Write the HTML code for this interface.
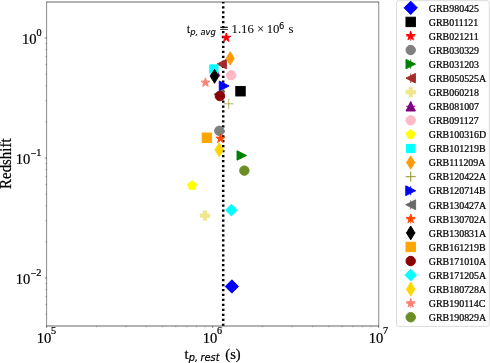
<!DOCTYPE html>
<html lang="en"><head><meta charset="utf-8"><title>GRB redshift vs peak time</title>
<style>html,body{margin:0;padding:0;background:#fff;}body{width:490px;height:363px;overflow:hidden;position:relative;}</style>
</head><body>
<svg width="490" height="363" viewBox="0 0 490 363" style="position:absolute;left:0;top:0;display:block">
<rect width="490" height="363" fill="#fff"/>
<style>text{fill:#000;stroke:#000;stroke-width:0.22px;font-family:"Liberation Serif",serif;}.tk{font-size:14.6px}.sp{font-size:10.2px}.lb{font-size:14.6px}.lg{font-size:9.95px}.an{font-size:12.75px;stroke-width:0.03px}.eq{font-size:12.75px;stroke-width:0.35px}.lbs{font-family:"DejaVu Sans","Liberation Sans",sans-serif;font-style:italic;font-size:9.85px}.ans{font-family:"DejaVu Sans","Liberation Sans",sans-serif;font-style:italic;font-size:8.3px;stroke-width:0.1px}.anp{font-family:"DejaVu Sans","Liberation Sans",sans-serif;font-size:8.3px;stroke-width:0.1px}</style>
<path d="M223.2 325.7V2.0" stroke="#000" stroke-width="2.5" stroke-dasharray="2.25 2.71" stroke-dashoffset="0.18" fill="none"/>
<path d="M231.9 279.79L238.58 286.47L231.9 293.15L225.22 286.47Z" fill="#0000ff" stroke="#0000ff" stroke-width="0.95"/>
<rect x="235.78" y="86.52" width="9.45" height="9.45" fill="#000000" stroke="#000000" stroke-width="0.95"/>
<path d="M226.3 32.96L227.36 36.23L230.79 36.23L228.02 38.25L229.08 41.51L226.3 39.49L223.52 41.51L224.58 38.25L221.81 36.23L225.24 36.23Z" fill="#ff0000" stroke="#ff0000" stroke-width="0.95" stroke-linejoin="bevel"/>
<circle cx="219.3" cy="130.81" r="4.72" fill="#808080" stroke="#808080" stroke-width="0.95"/>
<path d="M246.47 155.46L237.03 150.73L237.03 160.18Z" fill="#008000" stroke="#008000" stroke-width="0.95"/>
<path d="M216.97 64.1L226.42 59.38L226.42 68.83Z" fill="#a52a2a" stroke="#a52a2a" stroke-width="0.95"/>
<path d="M203.33 210.9H206.47V214.05H209.62V217.2H206.47V220.35H203.33V217.2H200.18V214.05H203.33Z" fill="#f0e68c" stroke="#f0e68c" stroke-width="0.95"/>
<path d="M215.1 66.41L219.82 75.86L210.38 75.86Z" fill="#800080" stroke="#800080" stroke-width="0.95"/>
<circle cx="231.2" cy="75.18" r="4.72" fill="#ffb8c5" stroke="#ffb8c5" stroke-width="0.95"/>
<path d="M192.1 180.77L196.59 184.04L194.88 189.32L189.32 189.32L187.61 184.04Z" fill="#ffff00" stroke="#ffff00" stroke-width="0.95"/>
<rect x="209.78" y="64.85" width="8.25" height="8.25" fill="#00ffff" stroke="#00ffff" stroke-width="0.95"/>
<path d="M230.2 51.65L234.21 58.33L230.2 65.01L226.19 58.33Z" fill="#ff9b08" stroke="#ff9b08" stroke-width="0.95"/>
<path d="M223.8 103.79H233.6M228.7 98.89V108.69" stroke="#a0a03c" stroke-width="0.78" fill="none"/>
<path d="M229.12 85.96L219.27 81.04L219.27 90.89Z" fill="#0000ff" stroke="#0000ff" stroke-width="0.95"/>
<path d="M213.97 94.22L223.83 89.3L223.83 99.15Z" fill="#696969" stroke="#696969" stroke-width="0.95"/>
<path d="M220.4 133.91L221.46 137.18L224.89 137.18L222.12 139.19L223.18 142.46L220.4 140.44L217.62 142.46L218.68 139.19L215.91 137.18L219.34 137.18Z" fill="#ff4500" stroke="#ff4500" stroke-width="0.95" stroke-linejoin="bevel"/>
<path d="M214.5 69.38L218.68 76.35L214.5 83.31L210.32 76.35Z" fill="#000000" stroke="#000000" stroke-width="0.95"/>
<rect x="202.18" y="133.02" width="9.45" height="9.45" fill="#ffa500" stroke="#ffa500" stroke-width="0.95"/>
<circle cx="219.85" cy="96.02" r="4.72" fill="#8b0000" stroke="#8b0000" stroke-width="0.95"/>
<path d="M231.4 204.26L237.23 210.1L231.4 215.93L225.57 210.1Z" fill="#00ffff" stroke="#00ffff" stroke-width="0.95"/>
<path d="M219.15 142.85L223.33 149.82L219.15 156.78L214.97 149.82Z" fill="#ffd700" stroke="#ffd700" stroke-width="0.95"/>
<path d="M205.45 77.87L206.51 81.13L209.94 81.13L207.17 83.15L208.23 86.42L205.45 84.4L202.67 86.42L203.73 83.15L200.96 81.13L204.39 81.13Z" fill="#fa8072" stroke="#fa8072" stroke-width="0.95" stroke-linejoin="bevel"/>
<circle cx="244.35" cy="170.62" r="4.72" fill="#6b8e23" stroke="#6b8e23" stroke-width="0.95"/>
<path d="M46.6 2.0V326.0M378.75 2.0V326.0" stroke="#000" stroke-width="0.75" stroke-opacity="0.62" fill="none"/>
<path d="M46.230000000000004 2.0H379.12M46.230000000000004 326.0H379.12" stroke="#000" stroke-width="0.75" stroke-opacity="0.8" fill="none"/>
<path d="M46.6 326.0v1.9M212.65 326.0v1.9M378.7 326.0v1.9M46.6 38h-1.9M46.6 158h-1.9M46.6 278h-1.9" stroke="#000" stroke-width="0.7" stroke-opacity="0.7" fill="none"/>
<path d="M96.59 326.0v1.1M125.83 326.0v1.1M146.57 326.0v1.1M162.66 326.0v1.1M175.81 326.0v1.1M186.93 326.0v1.1M196.56 326.0v1.1M205.05 326.0v1.1M262.64 326.0v1.1M291.88 326.0v1.1M312.62 326.0v1.1M328.71 326.0v1.1M341.86 326.0v1.1M352.98 326.0v1.1M362.61 326.0v1.1M371.1 326.0v1.1M46.6 121.88h-1.1M46.6 100.75h-1.1M46.6 85.75h-1.1M46.6 74.12h-1.1M46.6 64.62h-1.1M46.6 56.59h-1.1M46.6 49.63h-1.1M46.6 43.49h-1.1M46.6 241.88h-1.1M46.6 220.75h-1.1M46.6 205.75h-1.1M46.6 194.12h-1.1M46.6 184.62h-1.1M46.6 176.59h-1.1M46.6 169.63h-1.1M46.6 163.49h-1.1M46.6 314.12h-1.1M46.6 304.62h-1.1M46.6 296.59h-1.1M46.6 289.63h-1.1M46.6 283.49h-1.1" stroke="#000" stroke-width="0.6" stroke-opacity="0.5" fill="none"/>
<text class="tk" transform="translate(36.8 342.6) scale(1 1.05)">10</text><text class="sp" transform="translate(51 333.8) scale(1 1.05)">5</text>
<text class="tk" transform="translate(202.8 342.6) scale(1 1.05)">10</text><text class="sp" transform="translate(217 333.8) scale(1 1.05)">6</text>
<text class="tk" transform="translate(368.8 342.6) scale(1 1.05)">10</text><text class="sp" transform="translate(383 333.8) scale(1 1.05)">7</text>
<text class="tk" transform="translate(22 44.4) scale(1 1.05)">10</text><text class="sp" transform="translate(36.6 35.8) scale(1 1.05)">0</text>
<text class="tk" transform="translate(15.8 164.4) scale(1 1.05)">10</text><text class="sp" transform="translate(30.8 156.6)">−</text><text class="sp" transform="translate(36.15 155.8) scale(1 1.05)">1</text>
<text class="tk" transform="translate(15.8 284.4) scale(1 1.05)">10</text><text class="sp" transform="translate(30.8 276.6)">−</text><text class="sp" transform="translate(36.15 275.8) scale(1 1.05)">2</text>
<text class="lb" transform="translate(184.6 358.5) scale(1 1.05)">t</text>
<text class="lbs" transform="translate(188.7 360.7)">p,</text>
<text class="lbs" transform="translate(200.4 360.7)">rest</text>
<text class="lb" transform="translate(225.3 358.5) scale(1 1.05)">(s)</text>
<text class="lb" transform="translate(11.3 188.9) rotate(-90) scale(1.02 1.08)">Redshift</text>
<text class="an" transform="translate(186.8 33) scale(1 1.05)">t</text>
<text class="ans" transform="translate(190.35 35)">p,</text>
<text class="ans" transform="translate(200.5 35)">avg</text>
<text class="eq" transform="translate(219.7 33) scale(1.2 1)">=</text>
<text class="an" transform="translate(231.52 33) scale(1 1.05)">1.16 ×</text>
<text class="an" transform="translate(266.7 33) scale(1 1.05)">10</text>
<text class="anp" transform="translate(278.9 28.6)">6</text>
<text class="an" transform="translate(288.6 33) scale(1 1.05)">s</text>
<rect x="396.5" y="0.7" width="92.8" height="325.7" rx="2" ry="2" fill="#fff" stroke="#dcdcdc" stroke-width="1"/>
<path d="M406.1 7.85H415.3M410.7 3.25V12.45" stroke="#0000ff" stroke-width="0.9" fill="none"/><path d="M410.7 1.17L417.38 7.85L410.7 14.53L404.02 7.85Z" fill="#0000ff" stroke="#0000ff" stroke-width="0.95"/>
<text class="lg" transform="translate(428.8 11.6) scale(1 1.05)">GRB980425</text>
<path d="M406.1 21.91H415.3M410.7 17.31V26.52" stroke="#000000" stroke-width="0.9" fill="none"/><rect x="405.97" y="17.19" width="9.45" height="9.45" fill="#000000" stroke="#000000" stroke-width="0.95"/>
<text class="lg" transform="translate(428.8 25.66) scale(1 1.05)">GRB011121</text>
<path d="M406.1 35.98H415.3M410.7 31.38V40.58" stroke="#ff0000" stroke-width="0.9" fill="none"/><path d="M410.7 31.25L411.76 34.52L415.19 34.52L412.42 36.54L413.48 39.8L410.7 37.78L407.92 39.8L408.98 36.54L406.21 34.52L409.64 34.52Z" fill="#ff0000" stroke="#ff0000" stroke-width="0.95" stroke-linejoin="bevel"/>
<text class="lg" transform="translate(428.8 39.73) scale(1 1.05)">GRB021211</text>
<path d="M406.1 50.05H415.3M410.7 45.45V54.65" stroke="#808080" stroke-width="0.9" fill="none"/><circle cx="410.7" cy="50.05" r="4.72" fill="#808080" stroke="#808080" stroke-width="0.95"/>
<text class="lg" transform="translate(428.8 53.8) scale(1 1.05)">GRB030329</text>
<path d="M406.1 64.11H415.3M410.7 59.51V68.71" stroke="#008000" stroke-width="0.9" fill="none"/><path d="M415.43 64.11L405.97 59.38L405.97 68.83Z" fill="#008000" stroke="#008000" stroke-width="0.95"/>
<text class="lg" transform="translate(428.8 67.86) scale(1 1.05)">GRB031203</text>
<path d="M406.1 78.17H415.3M410.7 73.58V82.77" stroke="#a52a2a" stroke-width="0.9" fill="none"/><path d="M405.97 78.17L415.43 73.45L415.43 82.9Z" fill="#a52a2a" stroke="#a52a2a" stroke-width="0.95"/>
<text class="lg" transform="translate(428.8 81.92) scale(1 1.05)">GRB050525A</text>
<path d="M406.1 92.24H415.3M410.7 87.64V96.84" stroke="#f0e68c" stroke-width="0.9" fill="none"/><path d="M409.12 87.52H412.27V90.66H415.43V93.81H412.27V96.96H409.12V93.81H405.97V90.66H409.12Z" fill="#f0e68c" stroke="#f0e68c" stroke-width="0.95"/>
<text class="lg" transform="translate(428.8 95.99) scale(1 1.05)">GRB060218</text>
<path d="M406.1 106.3H415.3M410.7 101.7V110.9" stroke="#800080" stroke-width="0.9" fill="none"/><path d="M410.7 101.58L415.43 111.03L405.97 111.03Z" fill="#800080" stroke="#800080" stroke-width="0.95"/>
<text class="lg" transform="translate(428.8 110.05) scale(1 1.05)">GRB081007</text>
<path d="M406.1 120.37H415.3M410.7 115.77V124.97" stroke="#ffb8c5" stroke-width="0.9" fill="none"/><circle cx="410.7" cy="120.37" r="4.72" fill="#ffb8c5" stroke="#ffb8c5" stroke-width="0.95"/>
<text class="lg" transform="translate(428.8 124.12) scale(1 1.05)">GRB091127</text>
<path d="M406.1 134.44H415.3M410.7 129.84V139.03" stroke="#ffff00" stroke-width="0.9" fill="none"/><path d="M410.7 129.71L415.19 132.97L413.48 138.26L407.92 138.26L406.21 132.97Z" fill="#ffff00" stroke="#ffff00" stroke-width="0.95"/>
<text class="lg" transform="translate(428.8 138.19) scale(1 1.05)">GRB100316D</text>
<path d="M406.1 148.5H415.3M410.7 143.9V153.1" stroke="#00ffff" stroke-width="0.9" fill="none"/><rect x="406.57" y="144.38" width="8.25" height="8.25" fill="#00ffff" stroke="#00ffff" stroke-width="0.95"/>
<text class="lg" transform="translate(428.8 152.25) scale(1 1.05)">GRB101219B</text>
<path d="M406.1 162.56H415.3M410.7 157.97V167.16" stroke="#ff9b08" stroke-width="0.9" fill="none"/><path d="M410.7 155.88L414.71 162.56L410.7 169.25L406.69 162.56Z" fill="#ff9b08" stroke="#ff9b08" stroke-width="0.95"/>
<text class="lg" transform="translate(428.8 166.31) scale(1 1.05)">GRB111209A</text>
<path d="M406.1 176.63H415.3M410.7 172.03V181.23" stroke="#a0a03c" stroke-width="0.9" fill="none"/><path d="M405.55 176.63H415.85M410.7 171.48V181.78" stroke="#a0a03c" stroke-width="0.78" fill="none"/>
<text class="lg" transform="translate(428.8 180.38) scale(1 1.05)">GRB120422A</text>
<path d="M406.1 190.69H415.3M410.7 186.09V195.29" stroke="#0000ff" stroke-width="0.9" fill="none"/><path d="M415.62 190.69L405.77 185.77L405.77 195.62Z" fill="#0000ff" stroke="#0000ff" stroke-width="0.95"/>
<text class="lg" transform="translate(428.8 194.44) scale(1 1.05)">GRB120714B</text>
<path d="M406.1 204.76H415.3M410.7 200.16V209.36" stroke="#696969" stroke-width="0.9" fill="none"/><path d="M405.77 204.76L415.62 199.83L415.62 209.69Z" fill="#696969" stroke="#696969" stroke-width="0.95"/>
<text class="lg" transform="translate(428.8 208.51) scale(1 1.05)">GRB130427A</text>
<path d="M406.1 218.82H415.3M410.7 214.22V223.42" stroke="#ff4500" stroke-width="0.9" fill="none"/><path d="M410.7 214.1L411.76 217.36L415.19 217.36L412.42 219.38L413.48 222.65L410.7 220.63L407.92 222.65L408.98 219.38L406.21 217.36L409.64 217.36Z" fill="#ff4500" stroke="#ff4500" stroke-width="0.95" stroke-linejoin="bevel"/>
<text class="lg" transform="translate(428.8 222.57) scale(1 1.05)">GRB130702A</text>
<path d="M406.1 232.89H415.3M410.7 228.29V237.49" stroke="#000000" stroke-width="0.9" fill="none"/><path d="M410.7 225.92L414.88 232.89L410.7 239.86L406.52 232.89Z" fill="#000000" stroke="#000000" stroke-width="0.95"/>
<text class="lg" transform="translate(428.8 236.64) scale(1 1.05)">GRB130831A</text>
<path d="M406.1 246.95H415.3M410.7 242.35V251.55" stroke="#ffa500" stroke-width="0.9" fill="none"/><rect x="405.97" y="242.23" width="9.45" height="9.45" fill="#ffa500" stroke="#ffa500" stroke-width="0.95"/>
<text class="lg" transform="translate(428.8 250.7) scale(1 1.05)">GRB161219B</text>
<path d="M406.1 261.02H415.3M410.7 256.42V265.62" stroke="#8b0000" stroke-width="0.9" fill="none"/><circle cx="410.7" cy="261.02" r="4.72" fill="#8b0000" stroke="#8b0000" stroke-width="0.95"/>
<text class="lg" transform="translate(428.8 264.77) scale(1 1.05)">GRB171010A</text>
<path d="M406.1 275.09H415.3M410.7 270.49V279.69" stroke="#00ffff" stroke-width="0.9" fill="none"/><path d="M410.7 269.25L416.53 275.09L410.7 280.92L404.87 275.09Z" fill="#00ffff" stroke="#00ffff" stroke-width="0.95"/>
<text class="lg" transform="translate(428.8 278.84) scale(1 1.05)">GRB171205A</text>
<path d="M406.1 289.15H415.3M410.7 284.55V293.75" stroke="#ffd700" stroke-width="0.9" fill="none"/><path d="M410.7 282.18L414.88 289.15L410.7 296.12L406.52 289.15Z" fill="#ffd700" stroke="#ffd700" stroke-width="0.95"/>
<text class="lg" transform="translate(428.8 292.9) scale(1 1.05)">GRB180728A</text>
<path d="M406.1 303.22H415.3M410.7 298.62V307.82" stroke="#fa8072" stroke-width="0.9" fill="none"/><path d="M410.7 298.49L411.76 301.75L415.19 301.75L412.42 303.77L413.48 307.04L410.7 305.02L407.92 307.04L408.98 303.77L406.21 301.75L409.64 301.75Z" fill="#fa8072" stroke="#fa8072" stroke-width="0.95" stroke-linejoin="bevel"/>
<text class="lg" transform="translate(428.8 306.97) scale(1 1.05)">GRB190114C</text>
<path d="M406.1 317.28H415.3M410.7 312.68V321.88" stroke="#6b8e23" stroke-width="0.9" fill="none"/><circle cx="410.7" cy="317.28" r="4.72" fill="#6b8e23" stroke="#6b8e23" stroke-width="0.95"/>
<text class="lg" transform="translate(428.8 321.03) scale(1 1.05)">GRB190829A</text>
</svg>
</body></html>
